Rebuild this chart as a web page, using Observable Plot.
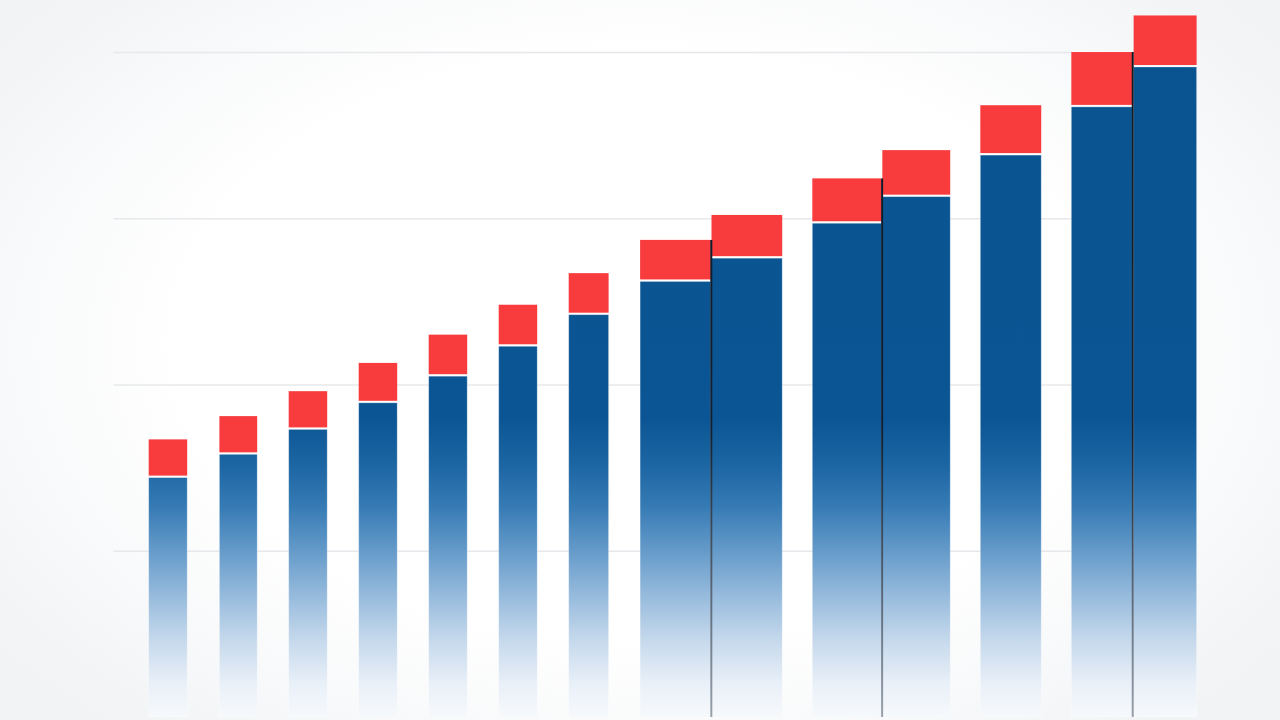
<!DOCTYPE html>
<html>
<head>
<meta charset="utf-8">
<script src="https://cdn.jsdelivr.net/npm/d3@7"></script>
<script src="https://cdn.jsdelivr.net/npm/@observablehq/plot@0.6"></script>
<style>
  html, body { margin: 0; padding: 0; width: 1280px; height: 720px; overflow: hidden; }
  body {
    background: radial-gradient(ellipse 62% 70% at 50% 48%, #ffffff 58%, #f8f9fa 80%, #f1f3f5 100%);
    font-family: "Noto Sans", sans-serif;
  }
  #chart { position: absolute; left: 0; top: 0; }
  #chart svg { background: transparent; display: block; }
</style>
</head>
<body>
<div id="chart"></div>
<script>
// Bar extents along the x axis (arbitrary period units)
const barStart = [0.00, 1.01, 2.00, 3.00, 4.00, 5.00, 6.00, 7.02, 8.04, 9.48, 10.48, 11.88, 13.18, 14.07];
const barEnd   = [0.55, 1.55, 2.55, 3.55, 4.55, 5.55, 6.57, 8.03, 9.05, 10.47, 11.45, 12.75, 14.05, 14.97];
// Stacked series values
const blueValues = [14.4, 15.8, 17.3, 18.9, 20.5, 22.3, 24.2, 26.2, 27.6, 29.7, 31.3, 33.8, 36.7, 39.1];
const redValues  = [2.3, 2.3, 2.3, 2.4, 2.5, 2.5, 2.5, 2.5, 2.6, 2.7, 2.8, 3.0, 3.3, 3.1];
// Gridline values
const gridTicks = [10, 20, 30, 40];

const data = barStart.map((s, i) => ({
  start: s,
  end: barEnd[i],
  blue: blueValues[i],
  red: redValues[i],
  total: blueValues[i] + redValues[i]
}));
// Bars that touch their right neighbour get a dark seam
const seams = data.filter((d, i) => i < data.length - 1 && data[i + 1].start - d.end < 0.05);

const W = 1280, H = 720;

const chart = Plot.plot({
  width: W,
  height: H,
  marginLeft: 0,
  marginRight: 0,
  marginTop: 0,
  marginBottom: 3,
  x: { domain: [-2.124, 16.161], axis: null },
  y: { domain: [0, 43.13], axis: null },
  style: { background: "transparent", overflow: "visible" },
  marks: [
    Plot.ruleY(gridTicks, { x1: () => -0.5, x2: () => 13.2, stroke: "#e6e8eb", strokeWidth: 1.5 }),
    Plot.rect(data, { x1: "start", x2: "end", y1: () => 0, y2: "blue", fill: "url(#blueGrad)", stroke: "#ffffff", strokeOpacity: 0.35, strokeWidth: 0.8 }),
    Plot.rect(data, { x1: "start", x2: "end", y1: "blue", y2: "total", fill: "#f83c3e", insetBottom: 2 }),
    Plot.ruleX(seams, { x: "end", y1: () => 0, y2: "total", stroke: "url(#seamGrad)", strokeWidth: 2 })
  ]
});

const svg = d3.select(chart.tagName === "svg" ? chart : chart.querySelector("svg"));
const defs = svg.insert("defs", ":first-child");
const g = defs.append("linearGradient")
  .attr("id", "blueGrad")
  .attr("gradientUnits", "userSpaceOnUse")
  .attr("x1", 0).attr("y1", 0).attr("x2", 0).attr("y2", H);
[
  [0.00, "#09548f"],
  [0.58, "#0b5594"],
  [0.64, "#1a64a2"],
  [0.70, "#3479b3"],
  [0.76, "#6198c8"],
  [0.83, "#98bcdd"],
  [0.89, "#c6d9ec"],
  [0.95, "#e9f0f8"],
  [1.00, "#f8fafc"]
].forEach(([o, c]) => g.append("stop").attr("offset", o).attr("stop-color", c));

const s = defs.append("linearGradient")
  .attr("id", "seamGrad")
  .attr("gradientUnits", "userSpaceOnUse")
  .attr("x1", 0).attr("y1", 0).attr("x2", 0).attr("y2", H);
[
  [0.00, "#0f1824"],
  [0.60, "#102033"],
  [0.80, "#4f5f72"],
  [1.00, "#9aa3ad"]
].forEach(([o, c]) => s.append("stop").attr("offset", o).attr("stop-color", c));

document.getElementById("chart").appendChild(chart);
</script>
</body>
</html>
